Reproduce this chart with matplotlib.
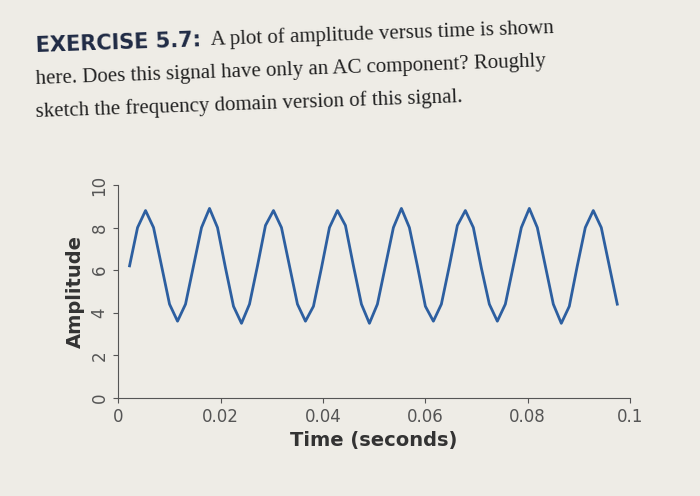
import matplotlib
matplotlib.use("Agg")
import matplotlib.pyplot as plt

t0 = 0.0022
dt = 0.0015625
amp = [6.2, 8.0, 8.8, 8.0, 6.2, 4.4, 3.6, 4.4,
       6.2, 8.0, 8.9, 8.0, 6.1, 4.3, 3.5, 4.4,
       6.2, 8.1, 8.8, 8.0, 6.2, 4.4, 3.6, 4.3,
       6.1, 8.0, 8.8, 8.1, 6.2, 4.4, 3.5, 4.4,
       6.2, 8.0, 8.9, 8.0, 6.2, 4.3, 3.6, 4.4,
       6.2, 8.1, 8.8, 8.0, 6.1, 4.4, 3.6, 4.4,
       6.2, 8.0, 8.9, 8.0, 6.2, 4.4, 3.5, 4.3,
       6.2, 8.0, 8.8, 8.0, 6.2, 4.4]
time = [t0 + i * dt for i in range(len(amp))]
xticks = [0, 0.02, 0.04, 0.06, 0.08, 0.1]
xticklabels = ["0", "0.02", "0.04", "0.06", "0.08", "0.1"]
yticks = [0, 2, 4, 6, 8, 10]

bg = "#eeece6"
fig = plt.figure(figsize=(7, 4.96), dpi=100, facecolor=bg)
fig.text(0.05, 0.895, "EXERCISE 5.7:", fontsize=15, fontweight="bold", color="#1f2a44", family="DejaVu Sans", rotation=2)
fig.text(0.3, 0.91, "A plot of amplitude versus time is shown", fontsize=15, family="Liberation Serif", color="#222", rotation=2)
fig.text(0.05, 0.83, "here. Does this signal have only an AC component? Roughly", fontsize=15, family="Liberation Serif", color="#222", rotation=2)
fig.text(0.05, 0.765, "sketch the frequency domain version of this signal.", fontsize=15, family="Liberation Serif", color="#222", rotation=2)

ax = fig.add_axes([0.169, 0.198, 0.731, 0.429], facecolor=bg)
ax.plot(time, amp, color="#2d5fa0", lw=2)
ax.set_xlim(0, 0.1)
ax.set_ylim(0, 10)
ax.set_xticks(xticks)
ax.set_xticklabels(xticklabels, fontsize=12, color="#444")
ax.set_yticks(yticks)
ax.set_yticklabels([str(v) for v in yticks], fontsize=12, color="#444", rotation=90, va="center")
for s in ["top", "right"]:
    ax.spines[s].set_visible(False)
for s in ["left", "bottom"]:
    ax.spines[s].set_color("#555")
ax.tick_params(colors="#555")
ax.set_xlabel("Time (seconds)", fontsize=14, color="#333", fontweight="bold")
ax.set_ylabel("Amplitude", fontsize=14, color="#333", fontweight="bold")
fig.savefig("out.png", facecolor=bg)
